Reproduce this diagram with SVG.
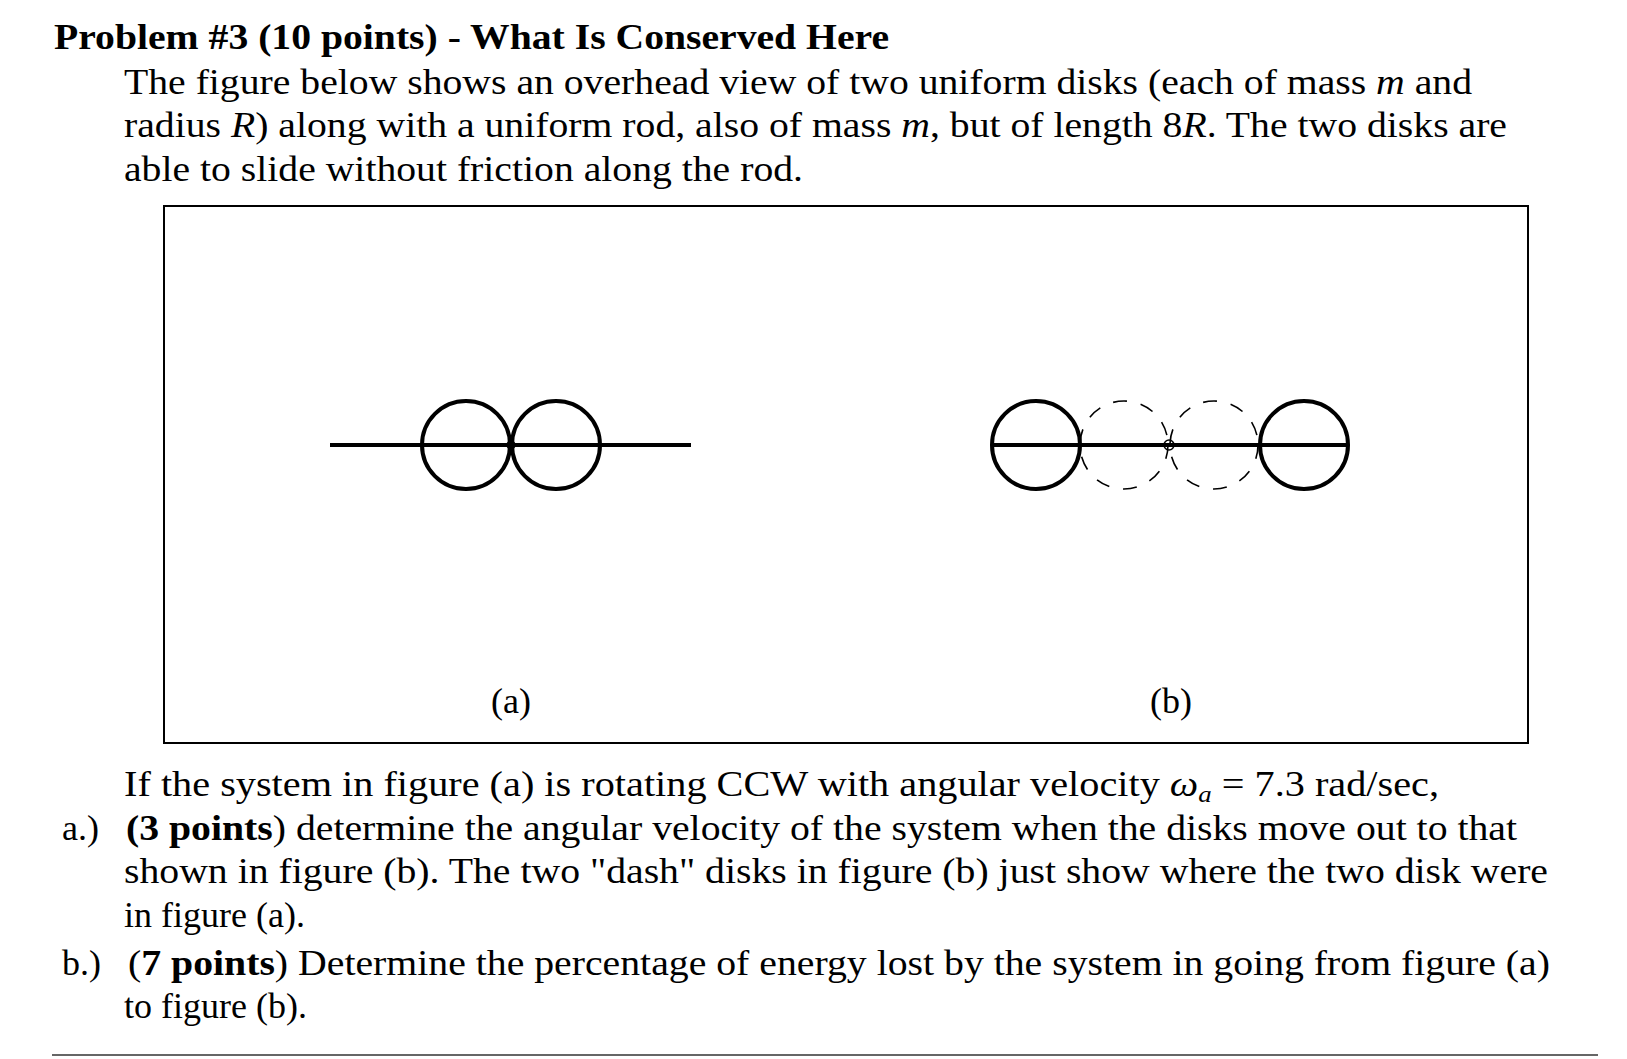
<svg xmlns="http://www.w3.org/2000/svg" width="1627" height="1059" viewBox="0 0 1627 1059">
<style>
text{font-family:"Liberation Serif","Times New Roman",serif;font-size:36px;fill:#000}
.b{font-weight:bold}
.s{fill:none;stroke:#000;stroke-width:4}
.d{fill:none;stroke:#000;stroke-width:1.6;stroke-dasharray:14,14}
</style>
<rect width="1627" height="1059" fill="#fff"/>
<text x="54" y="49" class="b" textLength="835" lengthAdjust="spacingAndGlyphs">Problem #3 (10 points) - What Is Conserved Here</text>
<text x="124" y="94" textLength="1348" lengthAdjust="spacingAndGlyphs">The figure below shows an overhead view of two uniform disks (each of mass <tspan font-style="italic">m</tspan> and</text>
<text x="124" y="137" textLength="1383" lengthAdjust="spacingAndGlyphs">radius <tspan font-style="italic">R</tspan>) along with a uniform rod, also of mass <tspan font-style="italic">m</tspan>, but of length 8<tspan font-style="italic">R</tspan>. The two disks are</text>
<text x="124" y="181" textLength="679" lengthAdjust="spacingAndGlyphs">able to slide without friction along the rod.</text>
<rect x="164" y="206" width="1364" height="537" fill="none" stroke="#000" stroke-width="2"/>
<g id="figA">
<line x1="330" y1="445" x2="691" y2="445" class="s"/>
<circle cx="466" cy="445" r="44" class="s"/>
<circle cx="556" cy="445" r="44" class="s"/>
<circle cx="511" cy="445" r="4" fill="none" stroke="#000" stroke-width="1.5"/>
<text x="511" y="713" text-anchor="middle">(a)</text>
</g>
<g id="figB">
<circle cx="1124" cy="445" r="44" class="d"/>
<circle cx="1214" cy="445" r="44" class="d"/>
<line x1="993" y1="445" x2="1349" y2="445" class="s"/>
<circle cx="1036" cy="445" r="44" class="s"/>
<circle cx="1304" cy="445" r="44" class="s"/>
<circle cx="1169" cy="445" r="5" fill="none" stroke="#000" stroke-width="1.5"/>
<text x="1171" y="713" text-anchor="middle">(b)</text>
</g>
<text x="124" y="796" textLength="1315" lengthAdjust="spacingAndGlyphs">If the system in figure (a) is rotating CCW with angular velocity <tspan font-style="italic">ω</tspan><tspan font-style="italic" font-size="24" dy="6">a</tspan><tspan dy="-6"> = 7.3 rad/sec,</tspan></text>
<text x="62" y="840">a.)</text>
<text x="126" y="840" textLength="1391" lengthAdjust="spacingAndGlyphs"><tspan class="b">(3 points</tspan>) determine the angular velocity of the system when the disks move out to that</text>
<text x="124" y="883" textLength="1424" lengthAdjust="spacingAndGlyphs">shown in figure (b). The two "dash" disks in figure (b) just show where the two disk were</text>
<text x="124" y="927">in figure (a).</text>
<text x="62" y="975">b.)</text>
<text x="128" y="975" textLength="1422" lengthAdjust="spacingAndGlyphs">(<tspan class="b">7 points</tspan>) Determine the percentage of energy lost by the system in going from figure (a)</text>
<text x="124" y="1018">to figure (b).</text>
<line x1="52" y1="1055" x2="1598" y2="1055" stroke="#333" stroke-width="1.5"/>
</svg>
